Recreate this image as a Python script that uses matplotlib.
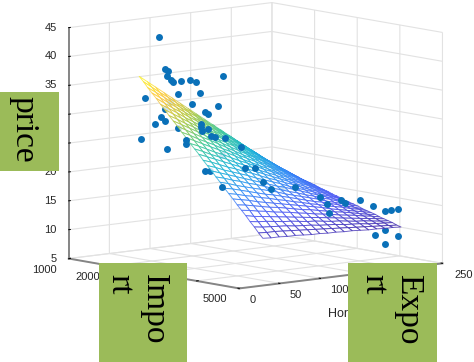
#------ Scatter + fitted mesh, 3D view, with green boxes over the labels
import numpy as np
import matplotlib
matplotlib.use("Agg")
import matplotlib.pyplot as plt
from matplotlib.colors import LinearSegmentedColormap
from matplotlib.patches import Rectangle
from mpl_toolkits.mplot3d import proj3d

#------ Data
import_ticks = [1000, 2000, 3000, 4000, 5000]
hp_ticks = [0, 50, 100, 150, 200, 250]
price_ticks = [5, 10, 15, 20, 25, 30, 35, 40, 45]

# dots in front of the mesh
front_import = [1500]*35 + [4500]*17
front_hp = [84.9, 91.9, 95.9, 95.2, 99.3, 102.1, 111.9, 122.7, 130.0, 163.7, 108.7, 135.0, 68.1, 125.5, 157.5,
	141.5, 145.7, 87.3, 92.7, 79.6, 137.1, 136.6, 138.3, 145.7, 149.4, 153.4, 165.8, 62.7, 117.7, 117.7,
	94.7, 141.5, 186.1, 190.6, 162.9,
	45.1, 55.3, 64.9, 94.5, 125.7, 134.4, 137.2, 151.1, 156.5, 174.5, 190.5, 205.8, 213.2, 221.3, 193.8, 221.3, 205.8]
front_price = [42.5, 36.8, 36.5, 35.7, 34.8, 34.5, 34.4, 34.5, 33.9, 34.5, 32.2, 31.9, 32.2, 30.2, 29.4,
	28.5, 28.1, 28.7, 27.9, 27.6, 26.6, 26.0, 25.4, 25.6, 24.2, 24.1, 23.7, 25.2, 24.2, 23.4,
	22.9, 18.4, 21.8, 18.0, 15.2,
	24.4, 21.8, 20.4, 20.2, 18.0, 16.6, 15.0, 17.1, 16.4, 16.7, 15.3, 14.2, 14.2, 14.2, 10.2, 9.6, 8.4]

# dots behind the mesh
back_import = [1500, 1500, 1500, 1500, 1500, 4500, 4500]
back_hp = [98.0, 91.9, 108.3, 147.3, 162.1, 78.7, 204.9]
back_price = [31.1, 29.9, 26.4, 18.2, 20.8, 20.4, 11.0]

# mesh
mesh_import = [1700, 1800, 1900, 2000, 2100, 2200, 2300, 2400, 2500, 2600, 2700, 2800, 2900, 3000, 3100,
	3200, 3300, 3400, 3500, 3600, 3700, 3800, 3900, 4000, 4100, 4200, 4300, 4400, 4500, 4600]
mesh_hp = [50, 60, 70, 80, 90, 100, 110, 120, 130, 140, 150, 160, 170, 180, 190, 200, 210, 220]
mesh_price = [
	[36.6, 35.5, 34.4, 33.3, 32.2, 31.1, 30.0, 28.9, 27.8, 26.7, 25.6, 24.5, 23.4, 22.3, 21.2, 20.1, 19.0, 17.9],
	[35.8, 34.7, 33.6, 32.6, 31.5, 30.4, 29.4, 28.3, 27.2, 26.2, 25.1, 24.1, 23.0, 21.9, 20.9, 19.8, 18.7, 17.7],
	[34.9, 33.9, 32.9, 31.8, 30.8, 29.8, 28.8, 27.7, 26.7, 25.7, 24.6, 23.6, 22.6, 21.6, 20.5, 19.5, 18.5, 17.4],
	[34.1, 33.1, 32.1, 31.1, 30.1, 29.1, 28.1, 27.1, 26.2, 25.2, 24.2, 23.2, 22.2, 21.2, 20.2, 19.2, 18.2, 17.2],
	[33.3, 32.3, 31.3, 30.4, 29.4, 28.5, 27.5, 26.6, 25.6, 24.6, 23.7, 22.7, 21.8, 20.8, 19.9, 18.9, 18.0, 17.0],
	[32.4, 31.5, 30.6, 29.6, 28.7, 27.8, 26.9, 26.0, 25.0, 24.1, 23.2, 22.3, 21.4, 20.4, 19.5, 18.6, 17.7, 16.8],
	[31.6, 30.7, 29.8, 28.9, 28.0, 27.1, 26.3, 25.4, 24.5, 23.6, 22.7, 21.8, 21.0, 20.1, 19.2, 18.3, 17.4, 16.5],
	[30.7, 29.9, 29.0, 28.2, 27.3, 26.5, 25.6, 24.8, 24.0, 23.1, 22.2, 21.4, 20.5, 19.7, 18.8, 18.0, 17.1, 16.3],
	[29.9, 29.1, 28.3, 27.5, 26.6, 25.8, 25.0, 24.2, 23.4, 22.6, 21.8, 21.0, 20.1, 19.3, 18.5, 17.7, 16.9, 16.1],
	[29.1, 28.3, 27.5, 26.7, 26.0, 25.2, 24.4, 23.6, 22.8, 22.1, 21.3, 20.5, 19.7, 19.0, 18.2, 17.4, 16.6, 15.9],
	[28.2, 27.5, 26.7, 26.0, 25.3, 24.5, 23.8, 23.0, 22.3, 21.6, 20.8, 20.1, 19.3, 18.6, 17.9, 17.1, 16.4, 15.6],
	[27.4, 26.7, 26.0, 25.3, 24.6, 23.9, 23.2, 22.4, 21.7, 21.0, 20.3, 19.6, 18.9, 18.2, 17.5, 16.8, 16.1, 15.4],
	[26.5, 25.9, 25.2, 24.5, 23.9, 23.2, 22.5, 21.9, 21.2, 20.5, 19.9, 19.2, 18.5, 17.8, 17.2, 16.5, 15.8, 15.2],
	[25.7, 25.1, 24.4, 23.8, 23.2, 22.5, 21.9, 21.3, 20.6, 20.0, 19.4, 18.7, 18.1, 17.5, 16.9, 16.2, 15.6, 14.9],
	[24.9, 24.3, 23.7, 23.1, 22.5, 21.9, 21.3, 20.7, 20.1, 19.5, 18.9, 18.3, 17.7, 17.1, 16.5, 15.9, 15.3, 14.7],
	[24.0, 23.5, 22.9, 22.3, 21.8, 21.2, 20.7, 20.1, 19.5, 19.0, 18.4, 17.9, 17.3, 16.7, 16.2, 15.6, 15.0, 14.5],
	[23.2, 22.7, 22.1, 21.6, 21.1, 20.6, 20.0, 19.5, 19.0, 18.5, 17.9, 17.4, 16.9, 16.4, 15.8, 15.3, 14.8, 14.2],
	[22.4, 21.9, 21.4, 20.9, 20.4, 19.9, 19.4, 18.9, 18.4, 18.0, 17.5, 17.0, 16.5, 16.0, 15.5, 15.0, 14.5, 14.0],
	[21.5, 21.1, 20.6, 20.2, 19.7, 19.3, 18.8, 18.3, 17.9, 17.4, 17.0, 16.5, 16.1, 15.6, 15.2, 14.7, 14.3, 13.8],
	[20.7, 20.3, 19.8, 19.4, 19.0, 18.6, 18.2, 17.8, 17.3, 16.9, 16.5, 16.1, 15.7, 15.2, 14.8, 14.4, 14.0, 13.6],
	[19.8, 19.5, 19.1, 18.7, 18.3, 17.9, 17.6, 17.2, 16.8, 16.4, 16.0, 15.6, 15.3, 14.9, 14.5, 14.1, 13.7, 13.3],
	[19.0, 18.7, 18.3, 18.0, 17.6, 17.3, 16.9, 16.6, 16.2, 15.9, 15.5, 15.2, 14.8, 14.5, 14.2, 13.8, 13.5, 13.1],
	[18.2, 17.9, 17.6, 17.2, 16.9, 16.6, 16.3, 16.0, 15.7, 15.4, 15.1, 14.8, 14.4, 14.1, 13.8, 13.5, 13.2, 12.9],
	[17.3, 17.1, 16.8, 16.5, 16.2, 16.0, 15.7, 15.4, 15.1, 14.9, 14.6, 14.3, 14.0, 13.8, 13.5, 13.2, 12.9, 12.7],
	[16.5, 16.3, 16.0, 15.8, 15.5, 15.3, 15.1, 14.8, 14.6, 14.3, 14.1, 13.9, 13.6, 13.4, 13.2, 12.9, 12.7, 12.4],
	[15.7, 15.4, 15.2, 15.0, 14.8, 14.6, 14.4, 14.2, 14.0, 13.8, 13.6, 13.4, 13.2, 13.0, 12.8, 12.6, 12.4, 12.2],
	[14.8, 14.6, 14.5, 14.3, 14.1, 14.0, 13.8, 13.6, 13.5, 13.3, 13.1, 13.0, 12.8, 12.6, 12.5, 12.3, 12.1, 12.0],
	[14.0, 13.8, 13.7, 13.6, 13.5, 13.3, 13.2, 13.1, 12.9, 12.8, 12.7, 12.5, 12.4, 12.3, 12.1, 12.0, 11.9, 11.8],
	[13.1, 13.0, 13.0, 12.9, 12.8, 12.7, 12.6, 12.5, 12.4, 12.3, 12.2, 12.1, 12.0, 11.9, 11.8, 11.7, 11.6, 11.5],
	[12.3, 12.2, 12.2, 12.1, 12.1, 12.0, 11.9, 11.9, 11.8, 11.8, 11.7, 11.7, 11.6, 11.5, 11.5, 11.4, 11.4, 11.3],
]

#------ Figure, all sizes in pixels of a 474x362 picture
W = 474.0; H = 362.0
plt.rcParams['font.family'] = ['Liberation Sans', 'DejaVu Sans']
fig = plt.figure(figsize=(W/100, H/100), dpi=100)
# axes bigger than the box, otherwise the dots get clipped on the right
ax = fig.add_axes([50.2/W, (H-350.9)/H, 400/W, 400/H], projection='3d', proj_type='ortho', computed_zorder=False)
ax.patch.set_alpha(0)

ax.view_init(elev=8.45, azim=-40)
ax.set_box_aspect((1, 1, 0.88), zoom=1.0724)
ax.set_xlim(1000, 5000, view_margin=0)
ax.set_ylim(0, 250, view_margin=0)
ax.set_zlim(5, 45, view_margin=0)
ax.set_xticks(import_ticks); ax.set_yticks(hp_ticks); ax.set_zticks(price_ticks)
ax.set_xticklabels([]); ax.set_yticklabels([]); ax.set_zticklabels([])
ax.zaxis.set_ticks_position('lower')

for axis in [ax.xaxis, ax.yaxis, ax.zaxis]:
	axis.set_pane_color((1, 1, 1, 0))
	axis.pane.set_edgecolor((1, 1, 1, 0))
	axis.line.set_color('#858585')
	axis.line.set_linewidth(1.4)
	axis._axinfo['grid'].update(color='#e2e2e2', linewidth=0.8)
	axis._axinfo['tick'].update(inward_factor=0.0, outward_factor=0.1, color='#777777')
	axis._axinfo['tick']['linewidth'] = {True: 0.7, False: 0.5}

#------ Parula like colours for the mesh
parula = LinearSegmentedColormap.from_list('parula', [(0.2422, 0.1504, 0.6603), (0.2810, 0.3228, 0.9579),
	(0.1786, 0.5289, 0.9682), (0.0689, 0.6948, 0.8394), (0.2161, 0.7843, 0.5923),
	(0.6720, 0.7793, 0.2227), (0.9970, 0.7659, 0.2199), (0.9769, 0.9839, 0.0805)])

X, Y = np.meshgrid(mesh_import, mesh_hp, indexing='ij')
Z = np.array(mesh_price)
face_z = (Z[:-1, :-1] + Z[1:, :-1] + Z[:-1, 1:] + Z[1:, 1:])/4.
edge_colors = parula((face_z.ravel() - Z.min())/(Z.max() - Z.min()))
edge_colors[:, 3] = 0.8

dot_color = '#0a70b8'
ax.scatter(back_import, back_hp, back_price, s=25, color=dot_color, linewidths=0, depthshade=False, zorder=1)
ax.plot_surface(X, Y, Z, rstride=1, cstride=1, color=(1, 1, 1, 0.8), shade=False,
	edgecolors=edge_colors, linewidth=0.65, zorder=2)
ax.scatter(front_import, front_hp, front_price, s=25, color=dot_color, linewidths=0, depthshade=False, zorder=3)

#------ Tick labels placed from the projected tick position
def tick_label(x, y, z, txt, dx, dy, ha='center'):
	xs, ys, _ = proj3d.proj_transform(x, y, z, ax.get_proj())
	ax.annotate(txt, (xs, ys), xytext=(dx, -dy), textcoords='offset pixels', ha=ha, va='center',
		fontsize=8, color='#262626', annotation_clip=False, zorder=5)

for p in price_ticks:
	tick_label(1000, 0, p, str(p), -12, 0, ha='right')
for v in import_ticks:
	tick_label(v, 0, 5, str(v), -24, 11)
for v, dx in zip(hp_ticks, [13, 16, 19, 20, 21, 21]):
	tick_label(5000, v, 5, str(v), dx, 12)

fig.text(328/W, 1 - 314/H, 'Horsepower', fontsize=9, color='#262626', ha='left', va='center')

#------ Green boxes over the axis names
green = '#9bbb59'
for x0, y0, x1, y1 in [(0, 92.5, 59, 171), (98.7, 262.7, 187.3, 362), (348, 262.7, 437.3, 362)]:
	fig.add_artist(Rectangle((x0/W, 1 - y1/H), (x1 - x0)/W, (y1 - y0)/H, transform=fig.transFigure,
		facecolor=green, edgecolor='none', zorder=10))

serif = ['Liberation Serif', 'DejaVu Serif']
fig.text(8/W, 1 - 96/H, 'price', family=serif, fontsize=24, rotation=-90, ha='left', va='top', zorder=11)
fig.text(104/W, 1 - 274/H, 'Impo\nrt', family=serif, fontsize=24, rotation=-90, ha='left', va='top', zorder=11)
fig.text(358/W, 1 - 274/H, 'Expo\nrt', family=serif, fontsize=24, rotation=-90, ha='left', va='top', zorder=11)

fig.savefig('out.png', dpi=100)
